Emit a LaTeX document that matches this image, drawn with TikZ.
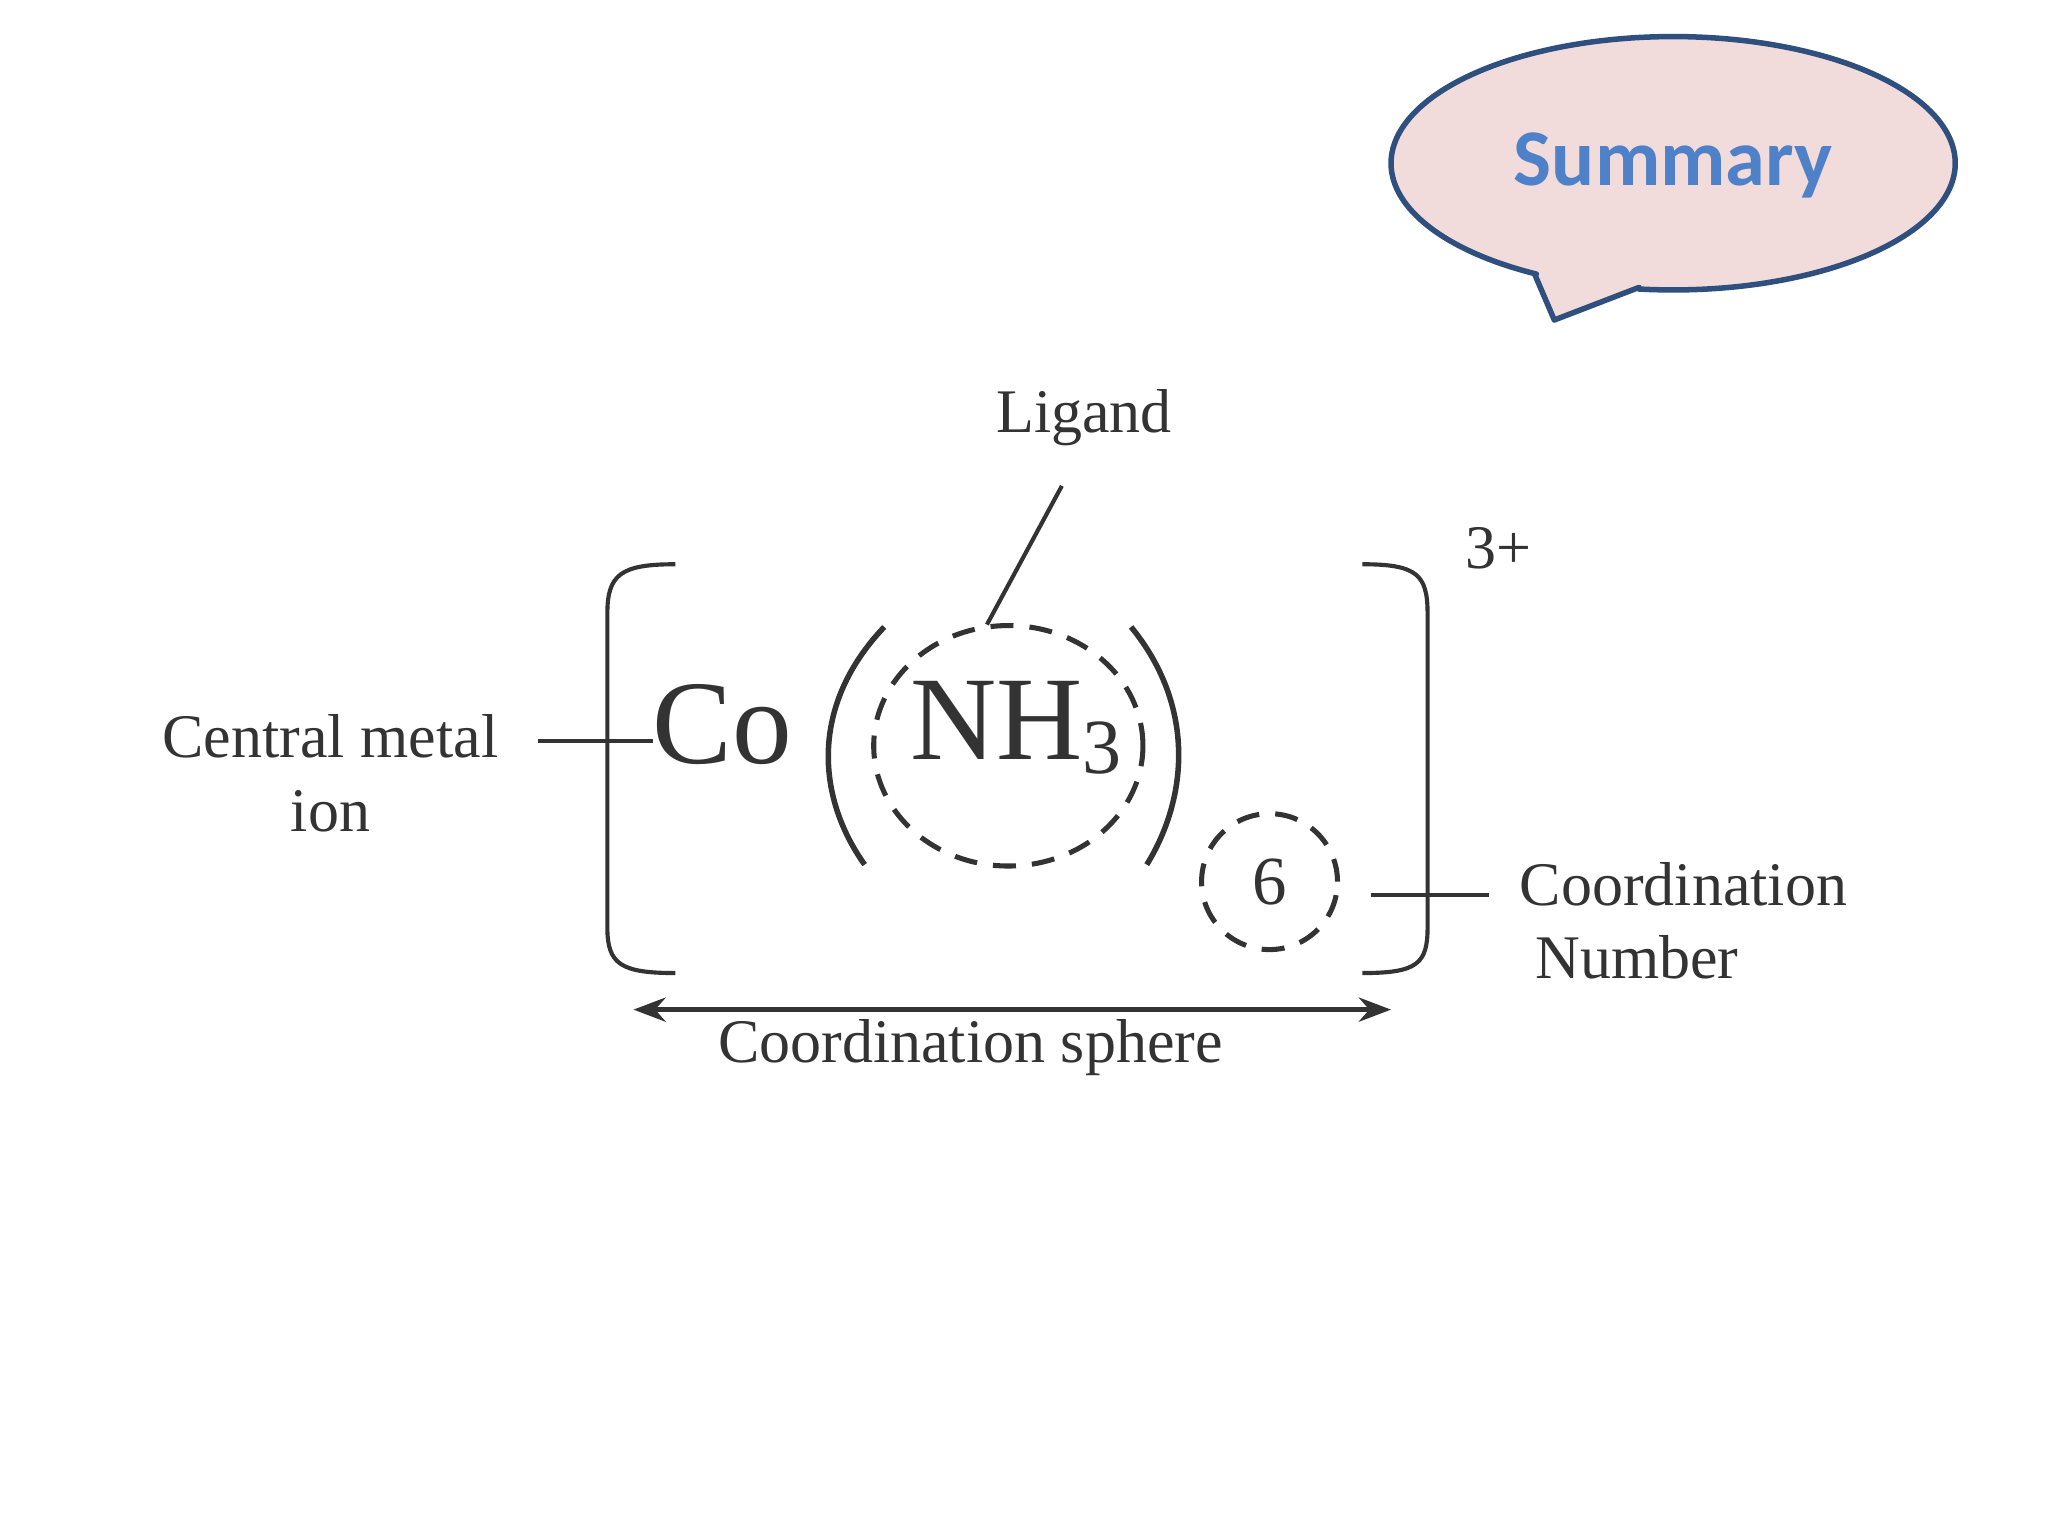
\documentclass[tikz,border=0pt]{standalone}
\usepackage{fontspec}
\setmainfont{Liberation Serif}
\newfontfamily\calib{Carlito}
\usetikzlibrary{arrows.meta,shapes.geometric}
\definecolor{bubfill}{HTML}{F2DCDB}
\definecolor{bubline}{HTML}{2F4F7F}
\definecolor{sumblue}{HTML}{4F81C9}
\definecolor{ink}{HTML}{333333}
\tikzset{x=0.01cm,y=-0.01cm,
 lbl/.style={font=\fontsize{13.5}{16}\selectfont,text=ink,align=center,inner sep=0pt},
 big/.style={font=\fontsize{26}{30}\selectfont,text=ink,inner sep=0pt},
 ln/.style={draw=ink,line width=0.9pt},
 dsh/.style={draw=ink,line width=1.1pt,dash pattern=on 5pt off 3.5pt}}
\begin{document}
\begin{tikzpicture}
\useasboundingbox (0,0) rectangle (1568,1176);
% bubble
\draw[bubline,line width=1.2pt,fill=bubfill,line join=round]
  (1175,210) -- (1190,245) -- (1255,220)
  -- plot[domain=97:-241,samples=150,smooth] ({1281+216*cos(\x)},{125+97*sin(\x)}) -- cycle;
\node[font=\calib\bfseries\fontsize{17.5}{20}\selectfont,text=sumblue] (sum) at (1281,127) {Summary};
% brackets
\draw[ln] (517,432) .. controls (475,432) and (465,440) .. (465,470) -- (465,710) .. controls (465,738) and (475,745) .. (517,745);
\draw[ln] (1043,432) .. controls (1085,432) and (1093,440) .. (1093,470) -- (1093,710) .. controls (1093,738) and (1085,745) .. (1043,745);
\node[lbl] (chg) at (1147,420) {3+};
\node[big] (co) at (553,555) {Co};
\node[big] (nh) at (778,557) {NH\raisebox{-0.25ex}{\fontsize{17}{20}\selectfont 3}};
\draw[ln,line width=1.2pt] (677,480) .. controls (620,540) and (625,610) .. (662,662);
\draw[ln,line width=1.2pt] (866,480) .. controls (915,540) and (910,610) .. (878,662);
\node[dsh,ellipse,minimum width=2.06cm,minimum height=1.84cm] (lig) at (772,571) {};
\node[dsh,circle,minimum size=1.04cm] (cn) at (972,675) {};
\node[lbl,font=\fontsize{15}{18}\selectfont] at (cn) {6};
% labels
\node[lbl] (cm) at (253,592) {Central metal\\ion};
\coordinate (coL) at (500,567);
\draw[ln] (412,567) -- (coL);
\node[lbl] (lg) at (830,320) {Ligand};
\coordinate (lgA) at (813,372);
\draw[ln] (lgA) -- (lig.100);
\node[lbl,align=left,anchor=west] (cnl) at (1163,705) {Coordination\\\ Number};
\coordinate (cnA) at (1050,685);
\draw[ln] (cnA) -- (1140,685);
\coordinate (sL) at (485,773);
\coordinate (sR) at (1065,773);
\draw[ln,line width=1.1pt,{Stealth[length=7pt]}-{Stealth[length=7pt]}] (sL) -- (sR);
\node[lbl] (sph) at (743,802) {Coordination sphere};
\end{tikzpicture}
\end{document}
